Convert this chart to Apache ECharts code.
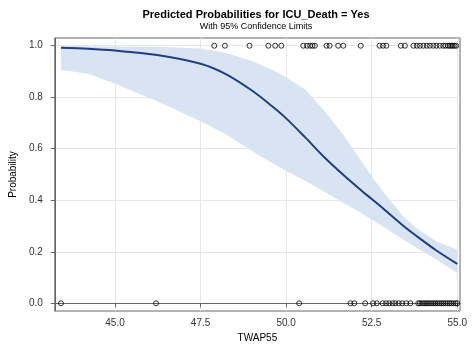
<!DOCTYPE html>
<html>
<head>
<meta charset="utf-8">
<script src="https://cdn.jsdelivr.net/npm/echarts@6/dist/echarts.min.js"></script>
<style>
html,body{margin:0;padding:0;background:#fff;}
#chart{width:474px;height:355px;}
</style>
</head>
<body>
<div id="chart"></div>
<script>
// ---- data ----
var xTicks = [45.0, 47.5, 50.0, 52.5, 55.0];
var yTicks = [0.0, 0.2, 0.4, 0.6, 0.8, 1.0];

// predicted probability curve
var curveX = [43.42, 44.21, 45.0, 46.23, 47.5, 48.25, 49.0, 49.59, 50.0, 50.55, 51.13, 51.70, 52.18, 52.5, 52.86, 53.43, 53.82, 54.39, 55.0];
var curveY = [0.992, 0.988, 0.981, 0.964, 0.930, 0.889, 0.826, 0.765, 0.718, 0.645, 0.565, 0.495, 0.440, 0.405, 0.365, 0.300, 0.260, 0.205, 0.153];

// 95% confidence limits
var bandX = [43.42, 44.21, 45.0, 46.23, 47.5, 48.25, 49.01, 49.59, 50.0, 50.55, 51.13, 51.70, 52.18, 52.5, 52.86, 53.43, 53.82, 54.39, 55.0];
var upperCL = [0.998, 0.998, 0.997, 0.996, 0.989, 0.972, 0.940, 0.907, 0.878, 0.830, 0.746, 0.649, 0.555, 0.493, 0.428, 0.336, 0.290, 0.241, 0.208];
var lowerCL = [0.907, 0.891, 0.852, 0.784, 0.707, 0.655, 0.590, 0.545, 0.515, 0.476, 0.432, 0.387, 0.351, 0.325, 0.295, 0.247, 0.215, 0.170, 0.118];

// observed outcomes: ICU_Death = Yes (1) and No (0)
var deathYesX = [47.90, 48.21, 48.93, 49.48, 49.68, 49.86, 50.50, 50.61, 50.70, 50.77, 50.84, 51.18, 51.27, 51.52, 51.67, 52.18, 52.73, 52.83, 52.93, 53.35, 53.47, 53.72, 53.82, 53.91, 54.01, 54.11, 54.20, 54.30, 54.39, 54.49, 54.59, 54.66, 54.73, 54.78, 54.83, 54.87, 54.92, 54.97];
var deathNoX = [43.42, 46.20, 50.38, 51.88, 51.99, 52.31, 52.54, 52.65, 52.82, 52.92, 53.01, 53.11, 53.19, 53.29, 53.39, 53.51, 53.63, 53.86, 53.91, 53.97, 54.03, 54.09, 54.14, 54.20, 54.26, 54.32, 54.37, 54.43, 54.49, 54.55, 54.60, 54.66, 54.72, 54.78, 54.83, 54.89, 54.95, 55.00];

var titleText = 'Predicted Probabilities for ICU_Death = Yes';
var subtitleText = 'With 95% Confidence Limits';
var xName = 'TWAP55';
var yName = 'Probability';

// ---- build ----
var curveData = curveX.map(function (x, i) { return [x, curveY[i]]; });
var bandData = bandX.map(function (x, i) { return [x, lowerCL[i], upperCL[i]]; });
var yesData = deathYesX.map(function (x) { return [x, 1]; });
var noData = deathNoX.map(function (x) { return [x, 0]; });

function renderBand(params, api) {
  if (params.dataIndex !== 0) return null;
  var pts = [];
  var i;
  for (i = 0; i < bandData.length; i++) pts.push(api.coord([bandData[i][0], bandData[i][2]]));
  for (i = bandData.length - 1; i >= 0; i--) pts.push(api.coord([bandData[i][0], bandData[i][1]]));
  return { type: 'polygon', shape: { points: pts }, style: { fill: '#d9e4f2', stroke: null } };
}

var FONT = '"Liberation Sans", Arial, sans-serif';
var chart = echarts.init(document.getElementById('chart'), null, { renderer: 'canvas' });
chart.setOption({
  animation: false,
  backgroundColor: '#ffffff',
  textStyle: { fontFamily: FONT },
  grid: { left: 50, right: 14, top: 38, bottom: 44, show: true, borderColor: '#666666', borderWidth: 1, containLabel: false },
  graphic: [
    { type: 'text', x: 256, y: 14.5, style: { text: titleText, font: 'bold 11px ' + FONT, fill: '#000', textAlign: 'center', textVerticalAlign: 'middle' } },
    { type: 'text', x: 256, y: 27, style: { text: subtitleText, font: '9px ' + FONT, fill: '#000', textAlign: 'center', textVerticalAlign: 'middle' } }
  ],
  xAxis: {
    type: 'value', min: 43.24, max: 55.08,
    name: xName, nameLocation: 'middle', nameGap: 21,
    nameTextStyle: { fontSize: 10, color: '#000', fontFamily: FONT },
    axisLine: { show: true, lineStyle: { color: '#666666', width: 1 } },
    axisTick: { show: true, length: 4, customValues: xTicks, lineStyle: { color: '#666666' } },
    axisLabel: { customValues: xTicks, margin: 7, fontSize: 10, color: '#333', fontFamily: FONT, formatter: function (v) { return v.toFixed(1); } },
    splitLine: { show: true, lineStyle: { color: '#e6e6e6', width: 1 } }
  },
  yAxis: {
    type: 'value', min: -0.03, max: 1.03,
    name: yName, nameLocation: 'middle', nameGap: 31,
    nameTextStyle: { fontSize: 10, color: '#000', fontFamily: FONT },
    axisLine: { show: true, lineStyle: { color: '#666666', width: 1 } },
    axisTick: { show: true, length: 4, customValues: yTicks, lineStyle: { color: '#666666' } },
    axisLabel: { customValues: yTicks, margin: 12, fontSize: 10, color: '#333', fontFamily: FONT, formatter: function (v) { return v.toFixed(1); } },
    splitLine: { show: true, lineStyle: { color: '#e6e6e6', width: 1 } }
  },
  series: [
    { type: 'custom', name: 'band', data: bandData, renderItem: renderBand, clip: true, silent: true, z: 1,
      encode: { x: 0, y: [1, 2] } },
    { type: 'scatter', name: 'yes', data: yesData, symbol: 'circle', symbolSize: 5,
      itemStyle: { color: 'rgba(0,0,0,0)', borderColor: '#000', borderWidth: 1 }, z: 3 },
    { type: 'scatter', name: 'no', data: noData, symbol: 'circle', symbolSize: 5,
      itemStyle: { color: 'rgba(0,0,0,0)', borderColor: '#000', borderWidth: 1 }, z: 3 },
    { type: 'line', name: 'fit', data: curveData, symbol: 'none', smooth: 0.3,
      lineStyle: { color: '#1f3f7d', width: 2 }, z: 4 }
  ]
});
</script>
</body>
</html>
